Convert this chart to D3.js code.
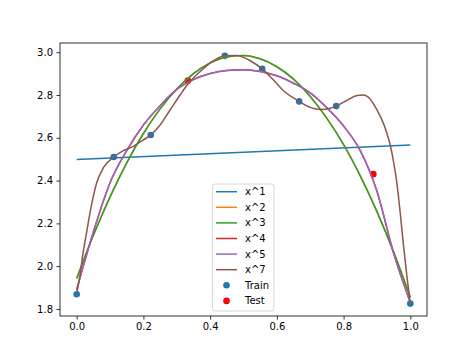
<!DOCTYPE html>
<html>
<head>
<meta charset="utf-8">
<script src="https://cdn.jsdelivr.net/npm/d3@7"></script>
<style>
  body { margin: 0; background: #fff; }
  text { font-family: "DejaVu Sans", sans-serif; fill: #000; }
</style>
</head>
<body>
<div id="chart"></div>
<script>
// training / test samples
var trainX = [0, 0.111, 0.222, 0.444, 0.556, 0.667, 0.778, 1.0];
var trainY = [1.869, 2.51, 2.613, 2.983, 2.922, 2.77, 2.748, 1.825];
var testX = [0.333, 0.889];
var testY = [2.867, 2.43];

// fitted curves
var deg1X = [0, 1];
var deg1Y = [2.498, 2.566];

var gridX = [0, 0.05, 0.1, 0.15, 0.2, 0.25, 0.3, 0.35, 0.4, 0.45, 0.5,
             0.55, 0.6, 0.65, 0.7, 0.75, 0.8, 0.85, 0.9, 0.95, 1.0];
var deg2Y = [1.942, 2.144, 2.324, 2.483, 2.62, 2.735, 2.828, 2.9, 2.95, 2.978, 2.985,
             2.969, 2.932, 2.874, 2.793, 2.691, 2.568, 2.422, 2.255, 2.066, 1.855];
var deg3Y = [1.942, 2.144, 2.324, 2.483, 2.62, 2.735, 2.828, 2.9, 2.95, 2.978, 2.985,
             2.969, 2.932, 2.874, 2.793, 2.691, 2.568, 2.422, 2.255, 2.066, 1.855];
var deg4Y = [1.89, 2.16, 2.39, 2.54, 2.66, 2.75, 2.826, 2.872, 2.9, 2.915, 2.918,
             2.91, 2.89, 2.855, 2.81, 2.74, 2.655, 2.54, 2.35, 2.06, 1.83];
var deg5Y = [1.89, 2.16, 2.39, 2.54, 2.66, 2.75, 2.826, 2.872, 2.9, 2.915, 2.918,
             2.91, 2.89, 2.855, 2.81, 2.74, 2.655, 2.54, 2.35, 2.06, 1.83];

var deg7X = [0, 0.01, 0.02, 0.03, 0.04, 0.06, 0.08, 0.111, 0.14, 0.17, 0.2, 0.222,
             0.25, 0.28, 0.31, 0.333, 0.37, 0.41, 0.444, 0.48, 0.52, 0.556, 0.59,
             0.62, 0.667, 0.7, 0.73, 0.76, 0.778, 0.81, 0.84, 0.86, 0.88, 0.9,
             0.92, 0.93, 0.94, 0.95, 0.96, 0.97, 0.98, 0.99, 1.0];
var deg7Y = [1.87, 1.96, 2.07, 2.16, 2.25, 2.39, 2.46, 2.51, 2.54, 2.56, 2.59, 2.613,
             2.66, 2.73, 2.80, 2.85, 2.91, 2.96, 2.983, 2.985, 2.96, 2.922, 2.87,
             2.82, 2.77, 2.742, 2.732, 2.738, 2.748, 2.775, 2.798, 2.80, 2.78, 2.73,
             2.665, 2.62, 2.565, 2.485, 2.385, 2.245, 2.09, 1.95, 1.825];

var xTicks = [0, 0.2, 0.4, 0.6, 0.8, 1.0];
var yTicks = [1.8, 2.0, 2.2, 2.4, 2.6, 2.8, 3.0];

var series = [
  {name: "x^1", xs: deg1X, ys: deg1Y, color: "#1f77b4"},
  {name: "x^2", xs: gridX, ys: deg2Y, color: "#ff7f0e"},
  {name: "x^3", xs: gridX, ys: deg3Y, color: "#2ca02c"},
  {name: "x^4", xs: gridX, ys: deg4Y, color: "#d62728"},
  {name: "x^5", xs: gridX, ys: deg5Y, color: "#9467bd"},
  {name: "x^7", xs: deg7X, ys: deg7Y, color: "#8c564b"}
];

var W = 474, H = 355;
var margin = {top: 43, right: 47, bottom: 39, left: 60},
    width = W - margin.left - margin.right,
    height = H - margin.top - margin.bottom;

var x = d3.scaleLinear().domain([-0.05, 1.05]).range([0, width]);
var y = d3.scaleLinear().domain([1.767, 3.043]).range([height, 0]);

var svg = d3.select("#chart").append("svg")
    .attr("width", W)
    .attr("height", H)
  .append("g")
    .attr("transform", "translate(" + margin.left + "," + margin.top + ")");

// scatter sits under the lines, like matplotlib's zorder
svg.selectAll(".train")
  .data(trainX)
  .enter().append("circle")
    .attr("class", "train")
    .attr("cx", function(d) { return x(d); })
    .attr("cy", function(d, i) { return y(trainY[i]); })
    .attr("r", 3.3)
    .attr("fill", "#1f77b4");

svg.selectAll(".test")
  .data(testX)
  .enter().append("circle")
    .attr("class", "test")
    .attr("cx", function(d) { return x(d); })
    .attr("cy", function(d, i) { return y(testY[i]); })
    .attr("r", 3.3)
    .attr("fill", "red");

var line = d3.line()
    .x(function(d) { return x(d[0]); })
    .y(function(d) { return y(d[1]); })
    .curve(d3.curveMonotoneX);

series.forEach(function(s) {
  svg.append("path")
      .datum(d3.zip(s.xs, s.ys))
      .attr("fill", "none")
      .attr("stroke", s.color)
      .attr("stroke-width", 1.5)
      .attr("d", line);
});

// axes
var xAxis = svg.append("g")
    .attr("transform", "translate(0," + height + ")")
    .call(d3.axisBottom(x).tickValues(xTicks).tickFormat(d3.format(".1f")).tickSizeOuter(0).tickSize(3.5).tickPadding(3.5));
var yAxis = svg.append("g")
    .call(d3.axisLeft(y).tickValues(yTicks).tickFormat(d3.format(".1f")).tickSizeOuter(0).tickSize(3.5).tickPadding(3.5));

[xAxis, yAxis].forEach(function(a) {
  a.select(".domain").remove();
  a.selectAll("line").attr("stroke", "#000").attr("stroke-width", 0.8);
  a.selectAll("text").attr("font-size", 10).attr("font-family", "DejaVu Sans, sans-serif");
});

svg.append("rect")
    .attr("width", width)
    .attr("height", height)
    .attr("fill", "none")
    .attr("stroke", "#000")
    .attr("stroke-width", 0.8);

// legend
var legend = svg.append("g")
    .attr("transform", "translate(" + (212.5 - margin.left) + "," + (184 - margin.top) + ")");

legend.append("rect")
    .attr("width", 61.5)
    .attr("height", 127)
    .attr("rx", 2.5)
    .attr("fill", "#fff")
    .attr("fill-opacity", 0.8)
    .attr("stroke", "#ccc")
    .attr("stroke-width", 0.8);

var rowH = 15.6;
series.forEach(function(s, i) {
  var cy = 7.7 + i * rowH;
  legend.append("line")
      .attr("x1", 3.5).attr("x2", 24.5)
      .attr("y1", cy).attr("y2", cy)
      .attr("stroke", s.color)
      .attr("stroke-width", 1.5);
  legend.append("text")
      .attr("x", 32.5).attr("y", cy)
      .attr("dy", "0.35em")
      .attr("font-size", 10)
      .text(s.name);
});

[{name: "Train", color: "#1f77b4"}, {name: "Test", color: "red"}].forEach(function(m, j) {
  var cy = 7.7 + (6 + j) * rowH;
  legend.append("circle")
      .attr("cx", 14).attr("cy", cy)
      .attr("r", 3.3)
      .attr("fill", m.color);
  legend.append("text")
      .attr("x", 32.5).attr("y", cy)
      .attr("dy", "0.35em")
      .attr("font-size", 10)
      .text(m.name);
});
</script>
</body>
</html>
